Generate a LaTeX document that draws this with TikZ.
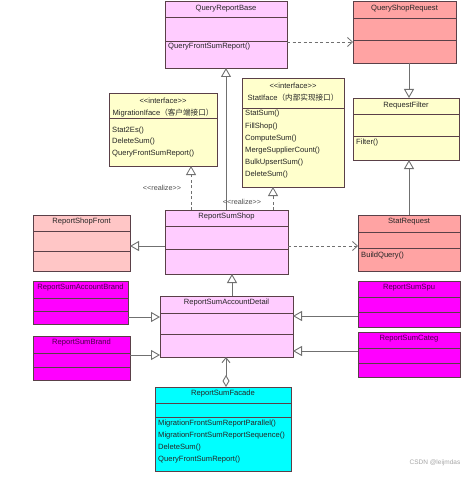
\documentclass[tikz,border=0pt]{standalone}
\usepackage{fontspec}
\setmainfont{Liberation Sans}
\newfontfamily\cjk{Noto Sans CJK SC}
\usetikzlibrary{arrows.meta}
\definecolor{lmag}{HTML}{FFCCFF}
\definecolor{salmon}{HTML}{FFA3A3}
\definecolor{lsalmon}{HTML}{FFC6C6}
\definecolor{lyel}{HTML}{FFFFCC}
\definecolor{mag}{HTML}{FF00FF}
\definecolor{cyn}{HTML}{00FFFF}
\definecolor{bord}{HTML}{5A4048}
\definecolor{conn}{HTML}{707070}
\definecolor{magtxt}{HTML}{4A004A}
\tikzset{
  box/.style={draw=bord, line width=0.9pt, inner sep=0pt, outer sep=0pt, anchor=north west},
  boxline/.style={draw=bord, line width=0.9pt},
  ttl/.style={font=\fontsize{7.6}{8}\selectfont, inner sep=0pt, text=black!85},
  meth/.style={font=\fontsize{7.6}{8}\selectfont, inner sep=0pt, anchor=west, text=black!85},
  lbl/.style={font=\fontsize{7.2}{8}\selectfont, inner sep=0pt, text=black!70},
  gen/.style={draw=conn, line width=0.9pt, -{Triangle[open, fill=white, length=9pt, width=10pt]}},
  dep/.style={draw=conn, line width=0.8pt, dash pattern=on 3pt off 2.5pt, -{Straight Barb[length=5pt, width=9pt]}},
  real/.style={draw=conn, line width=0.8pt, dash pattern=on 3pt off 2.5pt, -{Triangle[open, fill=white, length=9pt, width=10pt]}},
  aggr/.style={draw=conn, line width=0.9pt, {Diamond[open, fill=white, length=12pt, width=7pt]}-{Straight Barb[length=5pt, width=8pt]}},
}
% name, x1, y1, x2, y2, sep1, sep2, fill
\newcommand\umlbox[8]{%
  \node[box, fill=#8, minimum width={(#4-#2)*1pt}, minimum height={(#5-#3)*1pt}] (#1) at (#2,#3) {};
  \draw[boxline] (#2,#6) -- (#4,#6);
  \draw[boxline] (#2,#7) -- (#4,#7);
}
\newcommand\umlifbox[7]{%
  \node[box, fill=#7, minimum width={(#4-#2)*1pt}, minimum height={(#5-#3)*1pt}] (#1) at (#2,#3) {};
  \draw[boxline] (#2,#6) -- (#4,#6);
}
\begin{document}
\begin{tikzpicture}[x=1pt, y=-1pt]
\useasboundingbox (0,0) rectangle (474,481);
\fill[white] (0,0) rectangle (474,481);

% boxes
\umlbox{qrb}{165}{1}{287}{68}{17}{41}{lmag}
\umlbox{qsr}{353}{1}{456}{63}{18}{40}{salmon}
\umlbox{rf}{353}{98}{459}{160}{114}{136}{lyel}
\umlifbox{mi}{109}{93}{217}{166}{118}{lyel}
\umlifbox{si}{242}{78}{344}{187}{108}{lyel}
\umlbox{rss}{165}{210}{288}{274}{226}{249}{lmag}
\umlbox{rsf}{33}{215}{130}{271}{231}{251}{lsalmon}
\umlbox{sr}{358}{215}{460}{271}{232}{248}{salmon}
\umlbox{rsab}{33}{281}{128}{324}{298}{311}{mag}
\umlbox{rsb}{33}{336}{130}{380}{353}{367}{mag}
\umlbox{rsad}{160}{296}{293}{357}{313}{334}{lmag}
\umlbox{rssp}{358}{281}{460}{327}{297}{312}{mag}
\umlbox{rsc}{358}{332}{460}{377}{348}{363}{mag}
\umlbox{rsfc}{155}{387}{291}{471}{403}{417}{cyn}

% texts
\node[ttl] (qrbT) at (226,8.5) {QueryReportBase};
\node[meth] (qrbM1) at (168,47) {QueryFrontSumReport()};
\node[ttl] (qsrT) at (404.5,8.5) {QueryShopRequest};
\node[ttl] (rfT) at (406,105.5) {RequestFilter};
\node[meth] (rfM1) at (356,143) {Filter()};
\node[ttl] (miS) at (163,101) {<{}<interface>{}>};
\node[ttl] (miT) at (163,113) {MigrationIface{\cjk （客户端接口）}};
\node[meth] (miM1) at (112,130.5) {Stat2Es()};
\node[meth] (miM2) at (112,142) {DeleteSum()};
\node[meth] (miM3) at (112,154) {QueryFrontSumReport()};
\node[ttl] (siS) at (293,85.5) {<{}<interface>{}>};
\node[ttl] (siT) at (293,98) {StatIface{\cjk （内部实现接口）}};
\node[meth] (siM1) at (245,114) {StatSum()};
\node[meth] (siM2) at (245,126.2) {FillShop()};
\node[meth] (siM3) at (245,138.4) {ComputeSum()};
\node[meth] (siM4) at (245,150.6) {MergeSupplierCount()};
\node[meth] (siM5) at (245,162.8) {BulkUpsertSum()};
\node[meth] (siM6) at (245,175) {DeleteSum()};
\node[ttl] (rssT) at (226.5,217) {ReportSumShop};
\node[ttl] (rsfT) at (81.5,222) {ReportShopFront};
\node[ttl] (srT) at (409,222) {StatRequest};
\node[meth] (srM1) at (361,256) {BuildQuery()};
\node[ttl, text=magtxt] (rsabT) at (80.5,288) {ReportSumAccountBrand};
\node[ttl, text=magtxt] (rsbT) at (81.5,343) {ReportSumBrand};
\node[ttl] (rsadT) at (226.5,303) {ReportSumAccountDetail};
\node[ttl, text=magtxt] (rsspT) at (409,288) {ReportSumSpu};
\node[ttl, text=magtxt] (rscT) at (409,338.5) {ReportSumCateg};
\node[ttl] (rsfcT) at (223,394) {ReportSumFacade};
\node[meth] (rsfcM1) at (158,423.5) {MigrationFrontSumReportParallel()};
\node[meth] (rsfcM2) at (158,435.5) {MigrationFrontSumReportSequence()};
\node[meth] (rsfcM3) at (158,447.5) {DeleteSum()};
\node[meth] (rsfcM4) at (158,459.5) {QueryFrontSumReport()};

% connectors
\draw[dep] (qrb.east |- 0,42) -- (qsr.west |- 0,42);
\draw[gen] (qsr.south -| 409,0) -- (rf.north -| 409,0);
\draw[gen] (sr.north -| 409,0) -- (rf.south -| 409,0);
\draw[gen] (rss.north -| 226,0) -- (qrb.south -| 226,0);
\draw[real] (rss.north -| 191,0) -- (mi.south -| 191,0);
\draw[real] (rss.north -| 273,0) -- (si.south -| 273,0);
\node[lbl] (rl1) at (162,188) {<{}<realize>{}>};
\node[lbl] (rl2) at (242,202) {<{}<realize>{}>};
\draw[gen] (rss.west |- 0,246) -- (rsf.east |- 0,246);
\draw[dep] (rss.east |- 0,246) -- (sr.west |- 0,246);
\draw[gen] (rsad.north -| 232,0) -- (rss.south -| 232,0);
\draw[gen] (rsab.east |- 0,317) -- (rsad.west |- 0,317);
\draw[gen] (rsb.east |- 0,355) -- (rsad.west |- 0,355);
\draw[gen] (rssp.west |- 0,316) -- (rsad.east |- 0,316);
\draw[gen] (rsc.west |- 0,351) -- (rsad.east |- 0,351);
\draw[aggr] (rsfc.north -| 226,0) -- (rsad.south -| 226,0);

\node[font=\fontsize{6.5}{8}\selectfont, text=black!35, inner sep=0pt] (wm) at (435,463) {CSDN @leijmdas};
\end{tikzpicture}
\end{document}
